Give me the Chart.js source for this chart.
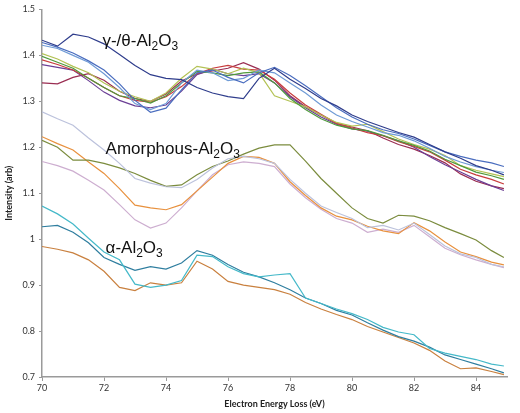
<html lang="en">
<head>
    <title>EELS Al2O3 spectra</title>
    <style>
        body { margin: 0; background: #fff; }
    </style>
</head>
<body>
    <canvas id="eelsChart" width="520" height="413"></canvas>

    <script src="https://cdn.jsdelivr.net/npm/chart.js"></script>
    <script>
        // energy loss axis (eV)
        const energy = [70, 70.5, 71, 71.5, 72, 72.5, 73, 73.5, 74, 74.5, 75, 75.5, 76, 76.5, 77, 77.5,
                        78, 78.5, 79, 79.5, 80, 80.5, 81, 81.5, 82, 82.5, 83, 83.5, 84, 84.5, 84.9];

        // gamma/theta spectra
        const gamma1 = [1.433, 1.420, 1.446, 1.440, 1.425, 1.402, 1.378, 1.358, 1.350, 1.347, 1.330, 1.318, 1.310, 1.306, 1.350, 1.372,
                        1.348, 1.328, 1.306, 1.290, 1.270, 1.256, 1.244, 1.232, 1.222, 1.206, 1.190, 1.176, 1.160, 1.150, 1.140];
        const gamma2 = [1.428, 1.418, 1.405, 1.388, 1.368, 1.338, 1.302, 1.276, 1.285, 1.325, 1.362, 1.368, 1.352, 1.340, 1.362, 1.374,
                        1.356, 1.334, 1.310, 1.286, 1.266, 1.250, 1.238, 1.230, 1.218, 1.204, 1.190, 1.180, 1.172, 1.166, 1.158];
        const gamma3 = [1.422, 1.415, 1.400, 1.385, 1.360, 1.330, 1.295, 1.282, 1.295, 1.340, 1.368, 1.362, 1.345, 1.350, 1.368, 1.362,
                        1.340, 1.318, 1.292, 1.270, 1.256, 1.244, 1.232, 1.226, 1.214, 1.198, 1.180, 1.168, 1.158, 1.150, 1.145];
        const gamma4 = [1.398, 1.385, 1.372, 1.350, 1.330, 1.312, 1.306, 1.296, 1.312, 1.340, 1.365, 1.362, 1.356, 1.362, 1.364, 1.340,
                        1.306, 1.282, 1.262, 1.248, 1.240, 1.236, 1.226, 1.214, 1.204, 1.192, 1.174, 1.160, 1.146, 1.138, 1.130];
        const gamma5 = [1.404, 1.392, 1.376, 1.362, 1.340, 1.322, 1.310, 1.300, 1.318, 1.350, 1.376, 1.370, 1.360, 1.372, 1.362, 1.312,
                        1.300, 1.288, 1.270, 1.254, 1.246, 1.250, 1.234, 1.218, 1.206, 1.196, 1.182, 1.160, 1.150, 1.142, 1.136];
        const gamma6 = [1.390, 1.380, 1.368, 1.350, 1.330, 1.312, 1.302, 1.298, 1.310, 1.332, 1.360, 1.372, 1.378, 1.370, 1.368, 1.348,
                        1.318, 1.292, 1.272, 1.252, 1.242, 1.232, 1.225, 1.212, 1.202, 1.190, 1.172, 1.152, 1.140, 1.130, 1.120];
        const gamma7 = [1.380, 1.374, 1.368, 1.345, 1.320, 1.302, 1.290, 1.286, 1.292, 1.322, 1.358, 1.370, 1.360, 1.356, 1.360, 1.340,
                        1.310, 1.286, 1.266, 1.250, 1.240, 1.235, 1.225, 1.214, 1.200, 1.180, 1.162, 1.146, 1.130, 1.116, 1.106];
        const gamma8 = [1.340, 1.338, 1.352, 1.360, 1.346, 1.322, 1.306, 1.300, 1.316, 1.344, 1.360, 1.366, 1.372, 1.384, 1.370, 1.346,
                        1.312, 1.288, 1.270, 1.252, 1.244, 1.236, 1.220, 1.206, 1.196, 1.182, 1.166, 1.142, 1.126, 1.116, 1.110];

        // amorphous spectra
        const amor1 = [1.277, 1.262, 1.248, 1.220, 1.194, 1.165, 1.132, 1.122, 1.114, 1.112, 1.130, 1.155, 1.175, 1.180, 1.175, 1.165,
                       1.130, 1.100, 1.072, 1.058, 1.045, 1.025, 1.030, 1.020, 1.035, 1.010, 0.985, 0.968, 0.960, 0.945, 0.940];
        const amor2 = [1.215, 1.200, 1.172, 1.172, 1.165, 1.155, 1.143, 1.128, 1.115, 1.118, 1.140, 1.158, 1.170, 1.185, 1.198, 1.205,
                       1.205, 1.170, 1.132, 1.100, 1.068, 1.045, 1.035, 1.052, 1.050, 1.040, 1.025, 1.012, 0.998, 0.975, 0.960];
        const amor3 = [1.223, 1.208, 1.194, 1.168, 1.143, 1.110, 1.074, 1.068, 1.064, 1.075, 1.105, 1.135, 1.165, 1.180, 1.178, 1.165,
                       1.125, 1.095, 1.068, 1.050, 1.042, 1.028, 1.018, 1.012, 1.036, 1.018, 0.994, 0.972, 0.962, 0.950, 0.944];
        const amor4 = [1.169, 1.160, 1.148, 1.128, 1.107, 1.075, 1.042, 1.024, 1.035, 1.068, 1.105, 1.140, 1.162, 1.168, 1.165, 1.158,
                       1.120, 1.090, 1.065, 1.045, 1.035, 1.015, 1.022, 1.015, 1.030, 1.005, 0.980, 0.966, 0.955, 0.945, 0.938];

        // alpha spectra
        const alpha1 = [1.072, 1.055, 1.033, 1.002, 0.972, 0.955, 0.902, 0.895, 0.900, 0.910, 0.965, 0.962, 0.940, 0.925, 0.918, 0.922,
                        0.925, 0.872, 0.860, 0.848, 0.838, 0.825, 0.808, 0.798, 0.792, 0.762, 0.752, 0.745, 0.738, 0.728, 0.724];
        const alpha2 = [1.027, 1.030, 1.015, 0.992, 0.960, 0.945, 0.932, 0.940, 0.935, 0.948, 0.975, 0.965, 0.945, 0.928, 0.918, 0.905,
                        0.890, 0.872, 0.860, 0.845, 0.835, 0.818, 0.802, 0.788, 0.778, 0.765, 0.748, 0.738, 0.728, 0.718, 0.709];
        const alpha3 = [0.984, 0.978, 0.970, 0.955, 0.930, 0.895, 0.888, 0.905, 0.900, 0.905, 0.952, 0.935, 0.908, 0.900, 0.895, 0.890,
                        0.880, 0.862, 0.848, 0.836, 0.825, 0.810, 0.798, 0.786, 0.774, 0.758, 0.735, 0.718, 0.720, 0.712, 0.705];

        // phase labels: text and anchor (energy, intensity)
        const phaseNames = ['γ-/θ-Al2O3', 'Amorphous-Al2O3', 'α-Al2O3'];
        const phaseX = [71.95, 72.05, 72.05];
        const phaseY = [1.42, 1.186, 0.97];

        const xTicks = [70, 72, 74, 76, 78, 80, 82, 84];

        const series = [
            [gamma1, '#2f3d8c'], [gamma2, '#4a6dbf'], [gamma3, '#6f9bd6'], [gamma4, '#4f9a3c'],
            [gamma5, '#b3c254'], [gamma6, '#c83d3d'], [gamma7, '#6b3f95'], [gamma8, '#9a2d52'],
            [amor1, '#bcc2dc'], [amor2, '#7b8c3e'], [amor3, '#e8913e'], [amor4, '#cdaed0'],
            [alpha1, '#45b9c9'], [alpha2, '#2f7e9f'], [alpha3, '#c9803f']
        ];

        /**
         * Draws the phase names, with digits as subscripts
         */
        const phaseLabels = {
            id: 'phaseLabels',
            afterDatasetsDraw(chart) {
                const ctx = chart.ctx;
                const xs = chart.scales.x, ys = chart.scales.y;
                ctx.save();
                ctx.fillStyle = '#111';
                ctx.textBaseline = 'alphabetic';
                for (let i = 0; i < phaseNames.length; i++) {
                    let px = xs.getPixelForValue(phaseX[i]);
                    const py = ys.getPixelForValue(phaseY[i]);
                    for (const ch of phaseNames[i]) {
                        const sub = /[0-9]/.test(ch);
                        ctx.font = (sub ? '12px' : '17px') + ' "Liberation Sans", Arial, sans-serif';
                        ctx.fillText(ch, px, sub ? py + 4 : py);
                        px += ctx.measureText(ch).width;
                    }
                }
                ctx.restore();
            }
        };

        const chart = new Chart(document.getElementById('eelsChart'), {
            type: 'line',
            data: {
                datasets: series.map(function (s) {
                    return {
                        data: energy.map((e, i) => ({x: e, y: s[0][i]})),
                        borderColor: s[1],
                        borderWidth: 1.2,
                        pointRadius: 0,
                        fill: false,
                        tension: 0
                    };
                })
            },
            options: {
                responsive: false,
                animation: false,
                layout: {padding: {top: 9, right: 13, left: 0, bottom: 0}},
                plugins: {legend: {display: false}, tooltip: {enabled: false}},
                scales: {
                    x: {
                        type: 'linear',
                        min: 70,
                        max: 85,
                        afterBuildTicks: function (scale) {
                            scale.ticks = xTicks.map(v => ({value: v}));
                        },
                        afterFit: function (scale) { scale.height = 36; },
                        ticks: {color: '#333', font: {family: 'Lato', size: 9}, padding: 2, maxRotation: 0},
                        grid: {drawOnChartArea: false, tickLength: 4, color: '#9a9a9a'},
                        border: {color: '#9a9a9a', width: 1.5},
                        title: {
                            display: true, text: 'Electron Energy Loss (eV)', color: '#222',
                            font: {family: 'Lato', size: 9, weight: 'bold'}, padding: {top: 4}
                        }
                    },
                    y: {
                        min: 0.7,
                        max: 1.5,
                        afterFit: function (scale) { scale.width = 42; },
                        ticks: {
                            stepSize: 0.1, color: '#333', font: {family: 'Lato', size: 9}, padding: 4,
                            callback: v => String(+v.toFixed(1))
                        },
                        grid: {drawOnChartArea: false, tickLength: 3, color: '#9a9a9a'},
                        border: {color: '#9a9a9a', width: 1.5},
                        title: {
                            display: true, text: 'Intensity (arb)', color: '#222',
                            font: {family: 'Lato', size: 9, weight: 'bold'}, padding: {bottom: 2}
                        }
                    }
                }
            },
            plugins: [phaseLabels]
        });
    </script>
</body>
</html>
